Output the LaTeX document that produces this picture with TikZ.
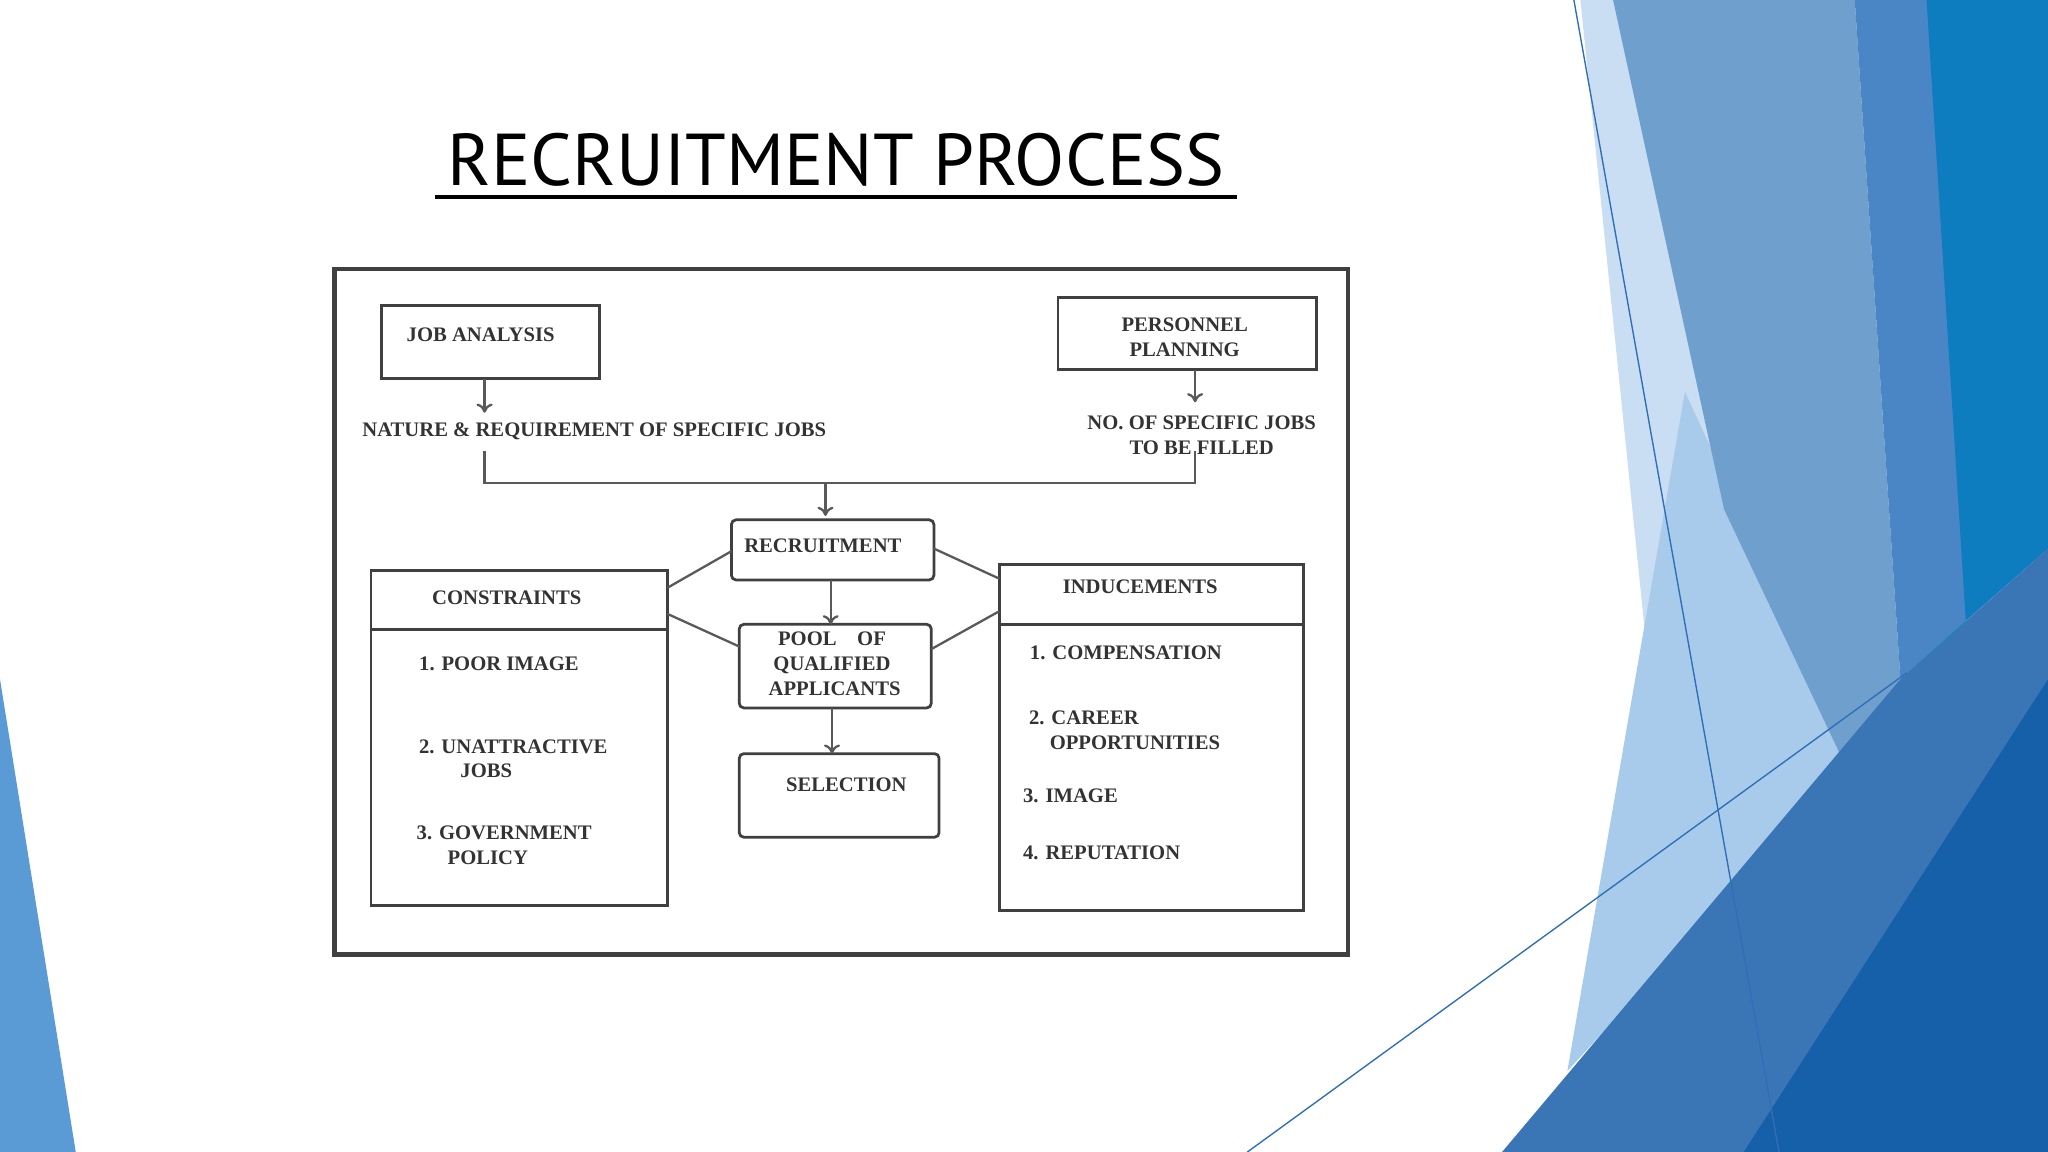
\documentclass[tikz,border=0pt]{standalone}
\usepackage{fontspec}
\usetikzlibrary{arrows.meta}
\setmainfont{Liberation Serif}
\newfontfamily\titlefont{PT Sans}
\definecolor{cMid}{HTML}{6F9FCC}
\definecolor{cPale}{HTML}{C9DEF2}
\definecolor{cPale2}{HTML}{A9CBEB}
\definecolor{cBlue}{HTML}{4A86C5}
\definecolor{cBright}{HTML}{0E7DC0}
\definecolor{cBot}{HTML}{3A76B6}
\definecolor{cDark}{HTML}{1560A8}
\definecolor{cLine}{HTML}{2F6FB8}
\definecolor{cLeft}{HTML}{5B9BD5}
\begin{document}
\begin{tikzpicture}[x=0.02cm,y=-0.02cm,
  bx/.style={draw=black!75,line width=1.2pt},
  ln/.style={draw=black!65,line width=1pt},
  ar/.style={draw=black!65,line width=1pt,-{To[length=4pt,width=7pt]}},
  tx/.style={font=\bfseries\fontsize{9}{10.8}\selectfont,text=black!80,align=center,inner sep=0pt}]
\useasboundingbox (0,0) rectangle (1568,882);
\fill[white] (0,0) rectangle (1568,882);
% right decoration
\fill[cPale] (1210,0) -- (1240,0) -- (1420,580) -- (1365,882) -- (1300,882) -- cycle;
\fill[cPale2] (1290,300) -- (1420,580) -- (1200,820) -- cycle;
\fill[cMid] (1235,0) -- (1420,0) -- (1455,520) -- (1410,580) -- (1320,390) -- cycle;
\fill[cBlue] (1420,0) -- (1568,0) -- (1568,420) -- (1455,520) -- cycle;
\fill[cBright] (1475,0) -- (1568,0) -- (1568,420) -- (1505,475) -- cycle;
\fill[cBright!80!cyan] (1425,710) -- (1455,520) -- (1505,475) -- cycle;
\fill[cBot] (1150,882) -- (1455,520) -- (1568,420) -- (1568,882) -- cycle;
\fill[cDark] (1335,882) -- (1568,520) -- (1568,882) -- cycle;
\draw[cLine,line width=0.6pt] (1205,0) -- (1362,882);
\draw[cLine,line width=0.6pt] (955,882) -- (1460,515);
% left decoration
\fill[cLeft] (0,520) -- (58,882) -- (0,882) -- cycle;
% title
\node[inner sep=0pt] (title) at (640,122) {\titlefont\fontsize{32}{34}\selectfont RECRUITMENT PROCESS};
\draw[line width=1.6pt] (333,151) -- (947,151);
% frame
\draw[draw=black!75,line width=2pt] (256,206) rectangle (1032,731);
% boxes
\draw[bx] (292,234) rectangle (459,290);
\coordinate (jaB) at (371,290);
\node[tx] (jat) at (368,256) {JOB ANALYSIS};
\draw[bx] (810,228) rectangle (1008,283);
\coordinate (ppB) at (915,283);
\node[tx] (ppt) at (907,258) {PERSONNEL\\PLANNING};
\node[tx] (nat) at (455,330) {NATURE \& REQUIREMENT OF SPECIFIC JOBS};
\node[tx] (no) at (920,333) {NO. OF SPECIFIC JOBS\\TO BE FILLED};
\coordinate (natT) at (371,316);
\coordinate (noT) at (915,308);
\draw[ar] (jaB) -- (natT);
\draw[ar] (ppB) -- (noT);
\coordinate (l1) at (371,345); \coordinate (l2) at (371,370);
\coordinate (r1) at (915,345); \coordinate (r2) at (915,370);
\coordinate (m) at (632,370);
\draw[ln] (l1) -- (l2) -- (r2) -- (r1);
\draw[bx,rounded corners=2pt] (560,398) rectangle (715,444);
\node[tx] (rec) at (630,418) {RECRUITMENT};
\coordinate (recT) at (632,395);
\draw[ar] (m) -- (recT);
\draw[bx,rounded corners=2pt] (566,478) rectangle (713,542);
\node[tx] (pool) at (637,508) {POOL\quad OF\\QUALIFIED\\\ APPLICANTS};
\draw[ar] (636,444) -- (636,478);
\draw[bx,rounded corners=2pt] (566,577) rectangle (719,641);
\node[tx] (sel) at (648,601) {SELECTION};
\draw[ar] (637,542) -- (637,577);
% constraints
\draw[bx] (284,437) rectangle (511,693);
\draw[bx] (284,482) -- (511,482);
\node[tx] (con) at (388,458) {CONSTRAINTS};
\node[tx] (c1) at (382,508) {1. POOR IMAGE};
\node[tx,align=left] (c2) at (393,581) {2. UNATTRACTIVE\\\qquad JOBS};
\node[tx,align=left] (c3) at (386,647) {3. GOVERNMENT\\\quad\ \ POLICY};
% inducements
\draw[bx] (765,432) rectangle (998,697);
\draw[bx] (765,478) -- (998,478);
\node[tx] (ind) at (873,449) {INDUCEMENTS};
\node[tx] (i1) at (862,500) {1. COMPENSATION};
\node[tx,align=left] (i2) at (861,559) {2. CAREER\\\quad OPPORTUNITIES};
\node[tx,align=left,anchor=west] (i3) at (783,609) {3. IMAGE};
\node[tx,align=left,anchor=west] (i4) at (783,653) {4. REPUTATION};
% diagonals
\draw[ln] (511,450) -- (560,422);
\draw[ln] (511,470) -- (566,495);
\draw[ln] (715,420) -- (765,443);
\draw[ln] (713,497) -- (765,468);
\end{tikzpicture}
\end{document}
